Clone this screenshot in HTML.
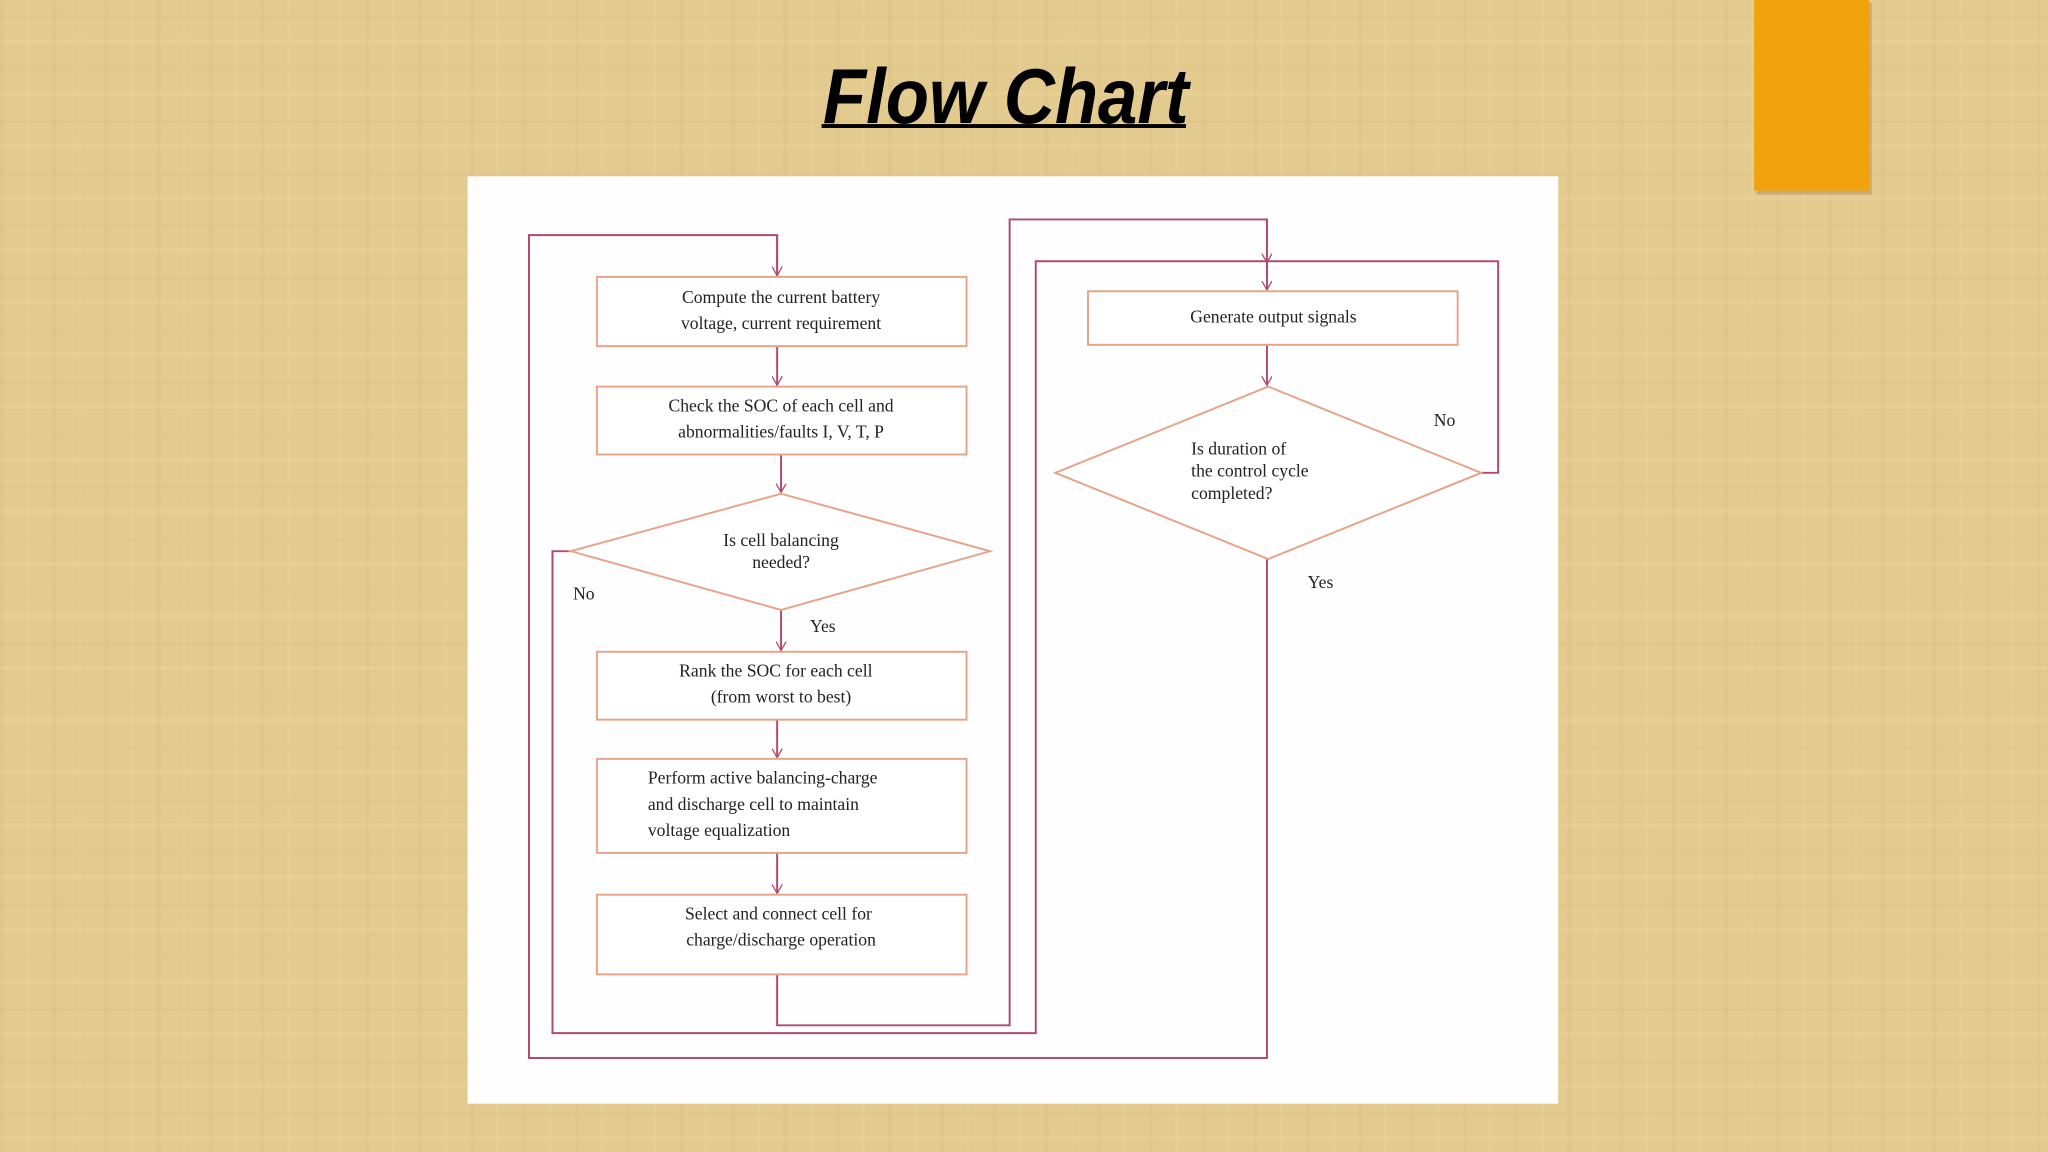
<!DOCTYPE html>
<html><head><meta charset="utf-8"><style>
html,body{margin:0;padding:0;width:2048px;height:1152px;overflow:hidden;background:#e2c98e;}
svg{display:block}
</style></head><body>
<svg width="2048" height="1152" viewBox="0 0 1568 882" xmlns="http://www.w3.org/2000/svg">
<defs>
<pattern id="tex" width="40" height="40" patternUnits="userSpaceOnUse">
<rect width="40" height="40" fill="#e3ca8f"/>
<rect x="0" y="0" width="3" height="40" fill="#d8bb78" opacity="0.25"/>
<rect x="20" y="0" width="2" height="40" fill="#ecd7a4" opacity="0.3"/>
<rect x="0" y="12" width="40" height="2" fill="#d6b874" opacity="0.2"/>
<rect x="0" y="30" width="40" height="3" fill="#eedaa8" opacity="0.25"/>
</pattern>
<marker id="ar" markerWidth="8" markerHeight="8" refX="7" refY="4" orient="auto" markerUnits="userSpaceOnUse"><path d="M0,0 L7,4 L0,8" fill="none" stroke="#b04a70" stroke-width="1"/></marker>
</defs>
<rect width="1568" height="882" fill="url(#tex)"/>
<rect x="1345" y="2" width="88" height="147" fill="#a08050" opacity="0.4"/>
<rect x="1343" y="0" width="88" height="146" fill="#f0a30c"/>
<text x="630" y="94" font-family="Liberation Sans, sans-serif" font-weight="bold" font-style="italic" font-size="60" textLength="280" lengthAdjust="spacingAndGlyphs" fill="#000">Flow Chart</text>
<rect x="629" y="95" width="279" height="3" fill="#000"/>
<rect x="358" y="135" width="835" height="710" fill="#fefefe"/>
<g fill="none" stroke="#b04a70" stroke-width="1.5">
<polyline points="595,212 595,180 405,180 405,810 970,810 970,428"/>
<line x1="595" y1="180" x2="595" y2="211" marker-end="url(#ar)"/>
<polyline points="437,422 423,422 423,791 793,791 793,200 1147,200 1147,362 1134,362"/>
<polyline points="595,746 595,785 773,785 773,168 970,168 970,222" />
<line x1="970" y1="168" x2="970" y2="222" marker-end="url(#ar)"/>
<line x1="970" y1="200" x2="970" y2="201" marker-end="url(#ar)"/>
<line x1="595" y1="265" x2="595" y2="295" marker-end="url(#ar)"/>
<line x1="598" y1="348" x2="598" y2="377" marker-end="url(#ar)"/>
<line x1="598" y1="467" x2="598" y2="498" marker-end="url(#ar)"/>
<line x1="595" y1="551" x2="595" y2="580" marker-end="url(#ar)"/>
<line x1="595" y1="653" x2="595" y2="684" marker-end="url(#ar)"/>
<line x1="970" y1="264" x2="970" y2="295" marker-end="url(#ar)"/>
</g>
<g fill="#fff" stroke="#e6a48a" stroke-width="1.5">
<rect x="457" y="212" width="283" height="53"/>
<rect x="457" y="296" width="283" height="52"/>
<polygon points="437,422 598,378 758,422 598,467"/>
<rect x="457" y="499" width="283" height="52"/>
<rect x="457" y="581" width="283" height="72"/>
<rect x="457" y="685" width="283" height="61"/>
<rect x="833" y="223" width="283" height="41"/>
<polygon points="808,362 971,296 1134,362 971,428"/>
</g>
<g font-family="Liberation Serif, serif" font-size="13.5" fill="#222" text-anchor="middle">
<text x="598" y="232">Compute the current battery</text>
<text x="598" y="252">voltage, current requirement</text>
<text x="598" y="315">Check the SOC of each cell and</text>
<text x="598" y="335">abnormalities/faults I, V, T, P</text>
<text x="598" y="418">Is cell balancing</text>
<text x="598" y="435">needed?</text>
<text x="594" y="518">Rank the SOC for each cell</text>
<text x="598" y="538">(from worst to best)</text>
<text x="596" y="704">Select and connect cell for</text>
<text x="598" y="724">charge/discharge operation</text>
<text x="975" y="247">Generate output signals</text>
<text x="447" y="459">No</text>
<text x="630" y="484">Yes</text>
<text x="1106" y="326">No</text>
<text x="1011" y="450">Yes</text>
</g>
<g font-family="Liberation Serif, serif" font-size="13.5" fill="#222">
<text x="496" y="600">Perform active balancing-charge</text>
<text x="496" y="620">and discharge cell to maintain</text>
<text x="496" y="640">voltage equalization</text>
<text x="912" y="348">Is duration of</text>
<text x="912" y="365">the control cycle</text>
<text x="912" y="382">completed?</text>
</g>
</svg>
</body></html>
